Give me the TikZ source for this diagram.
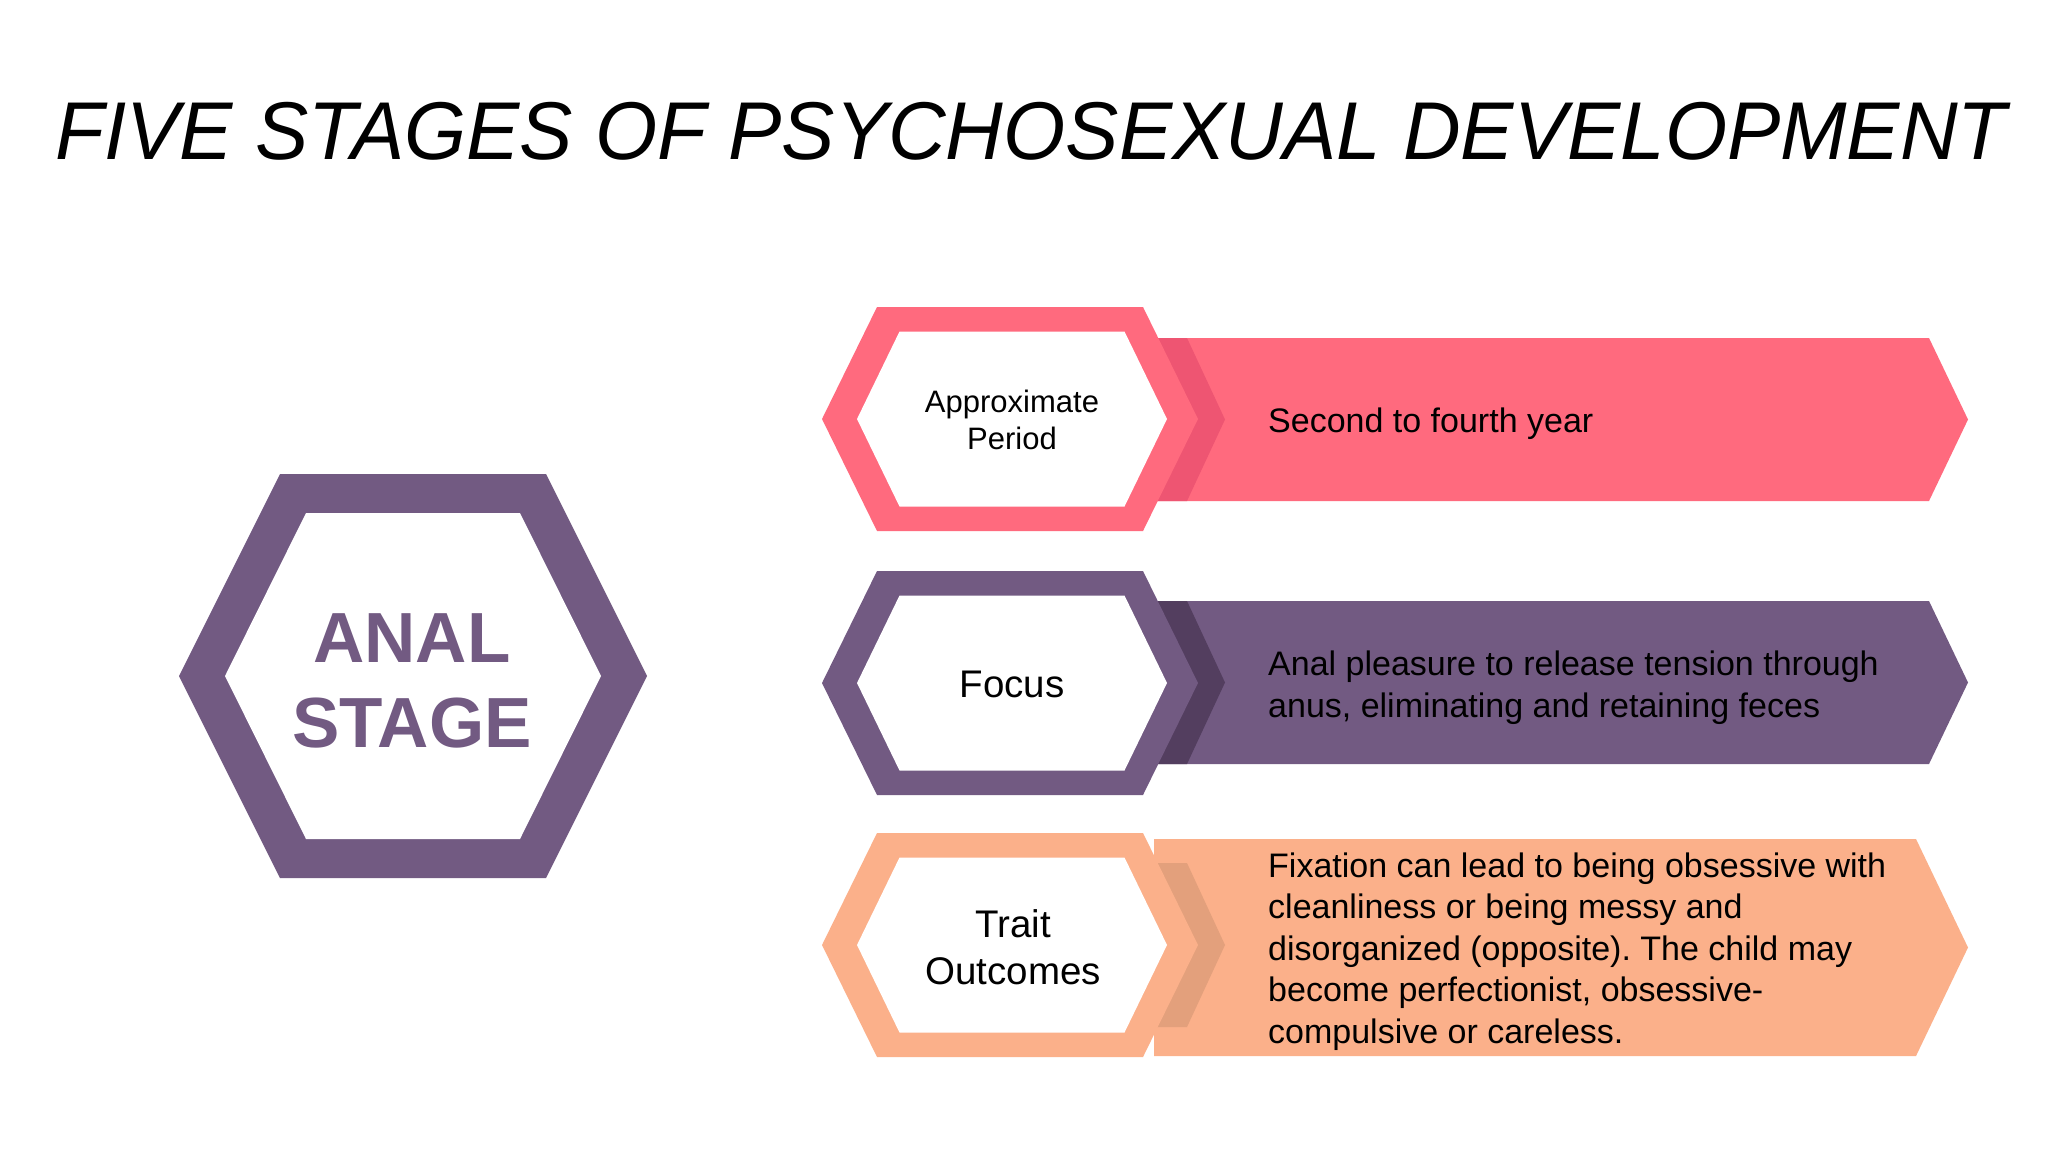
\documentclass[tikz,border=0pt]{standalone}
\usepackage{fontspec}
\setmainfont{Liberation Sans}
\usepackage{graphicx}
\frenchspacing
\definecolor{pinkA}{HTML}{FF6A7E}
\definecolor{pinkD}{HTML}{EE5572}
\definecolor{purA}{HTML}{725A82}
\definecolor{purD}{HTML}{533E5F}
\definecolor{peaA}{HTML}{FBB08A}
\definecolor{peaD}{HTML}{E3A07C}
% hexagon: cx, cy, half width, half height, half top edge, colour
\newcommand\hexfill[6]{\fill[#6] ({#1-#3},#2) -- ({#1-#5},{#2-#4}) -- ({#1+#5},{#2-#4}) -- ({#1+#3},#2) -- ({#1+#5},{#2+#4}) -- ({#1-#5},{#2+#4}) -- cycle;}
% arrow body: left x, top, bottom, corner x, tip x, colour
\newcommand\arrowfill[6]{\fill[#6] (#1,#2) -- (#4,#2) -- (#5,{(#2+#3)/2}) -- (#4,#3) -- (#1,#3) -- cycle;}
% chevron: top, bottom, colour
\newcommand\chevfill[3]{\fill[#3] (1150,#1) -- (1187,#1) -- (1225,{(#1+#2)/2}) -- (1187,#2) -- (1150,#2) -- cycle;}
\tikzset{
  hexlabel/.style={inner sep=0pt, align=center, text=black},
  desc/.style={inner sep=0pt, align=left, text=black, anchor=north west,
    font=\fontsize{34}{41.5}\selectfont},
}
\begin{document}
\begin{tikzpicture}[x=1pt,y=-1pt]
\fill[white] (0,0) rectangle (2048,1152);
\useasboundingbox (0,0) rectangle (2048,1152);

% title
\node[inner sep=0pt, anchor=base] (title) at (1031,159)
  {\scalebox{0.974}[1]{\fontsize{82}{90}\selectfont\itshape FIVE STAGES OF PSYCHOSEXUAL DEVELOPMENT}};

% big hexagon
\hexfill{413}{676}{234}{202}{133}{purA}
\hexfill{413}{676}{188}{163}{107}{white}
\node[hexlabel, text=purA, font=\fontsize{71}{85}\selectfont\bfseries] (stage) at (412,681) {ANAL\\STAGE};

% row 1
\arrowfill{1158}{338}{501}{1929}{1968}{pinkA}
\chevfill{338}{501}{pinkD}
\hexfill{1010}{419}{188}{112}{133}{pinkA}
\hexfill{1012}{419}{155}{87.5}{112.5}{white}
\node[hexlabel, font=\fontsize{31}{37}\selectfont] (period) at (1012,420) {Approximate\\Period};
\node[inner sep=0pt, anchor=base west, font=\fontsize{34}{41.5}\selectfont] (periodtxt) at (1268,432) {Second to fourth year};

% row 2
\arrowfill{1158}{601}{764}{1929}{1968}{purA}
\chevfill{601}{764}{purD}
\hexfill{1010}{683}{188}{112}{133}{purA}
\hexfill{1012}{683}{155}{87.5}{112.5}{white}
\node[hexlabel, font=\fontsize{38.5}{47}\selectfont] (focus) at (1012,684) {Focus};
\node[desc] (focustxt) at (1268,651) {Anal pleasure to release tension through\\anus, eliminating and retaining feces};

% row 3
\arrowfill{1154}{839}{1056}{1916}{1968}{peaA}
\chevfill{863}{1027}{peaD}
\hexfill{1010}{945}{188}{112}{133}{peaA}
\hexfill{1012}{945}{155}{87.5}{112.5}{white}
\node[hexlabel, font=\fontsize{38.5}{47}\selectfont] (trait) at (1013,947) {Trait\\Outcomes};
\node[desc] (traittxt) at (1268,852.5) {Fixation can lead to being obsessive with\\cleanliness or being messy and\\disorganized (opposite). The child may\\become perfectionist, obsessive-\\compulsive or careless.};
\end{tikzpicture}
\end{document}
